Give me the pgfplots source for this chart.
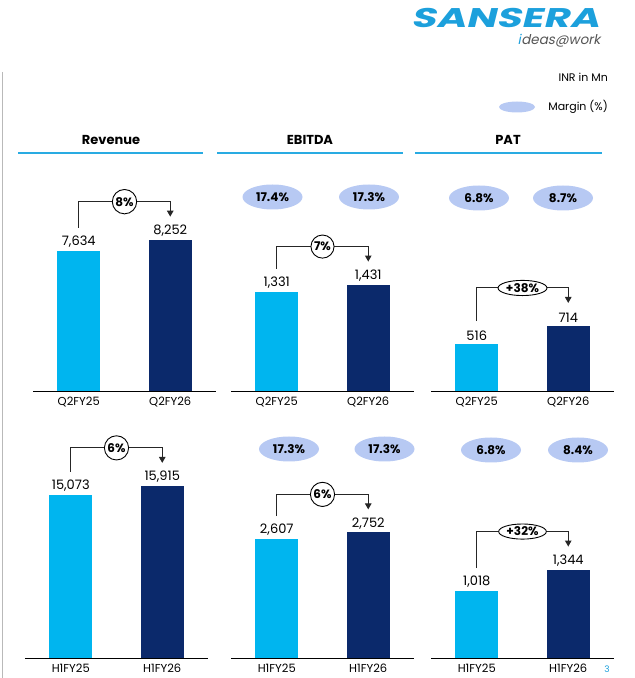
\documentclass[border=0pt]{standalone}
\usepackage{pgfplots}
\pgfplotsset{compat=1.18}
\usepackage{fontspec}
\setmainfont{Poppins}
\newfontfamily\logofont{Poppins}[FakeSlant=0.25, FakeStretch=1.5]
\newfontfamily\tagfont{Poppins}[FakeSlant=0.2]
\usetikzlibrary{arrows.meta,shapes.geometric}
\definecolor{lightbar}{RGB}{0,181,239}
\definecolor{darkbar}{RGB}{11,41,107}
\definecolor{titleline}{RGB}{41,171,226}
\definecolor{margcol}{RGB}{183,201,243}
\definecolor{logo}{RGB}{28,160,220}
\definecolor{taggray}{RGB}{85,85,85}

\pgfplotsset{
  panel/.style={
    scale only axis, width=183pt, height=200pt,
    ymin=0, xmin=-0.5, xmax=1.5, anchor=south west,
    axis y line=none, axis x line*=bottom,
    x axis line style={-, line width=0.8pt, black},
    xtick={0,1}, major tick length=0pt,
    xticklabel style={font=\fontsize{11.5}{13}\selectfont, text=black, yshift=-2.5pt},
    ybar, bar width=43pt, bar shift=0pt,
    nodes near coords,
    nodes near coords style={font=\fontsize{13}{15}\selectfont, text=black},
    /pgf/number format/fixed, /pgf/number format/precision=0,
    /pgf/number format/1000 sep={,},
    /pgf/number format/assume math mode=true,
    clip=false,
  }
}

\newcommand{\growth}[4][circle,inner sep=1.5pt]{%
  \draw[line width=1pt, draw=black!85, -{Triangle[width=6.5pt,length=6pt]}]
    ([yshift=23pt]axis cs:0,#2) |- ([yshift=38pt]axis cs:1,#3) -- ([yshift=23pt]axis cs:1,#3);
  \node[#1, draw=black, line width=0.9pt, fill=white,
        font=\bfseries\fontsize{12}{14}\selectfont]
    at ([yshift=38pt]axis cs:0.5,#3) {#4};
}
\newcommand{\marg}[3]{%
  \fill[margcol] (#1,#2) ellipse (30pt and 12.5pt);
  \node[font=\bfseries\fontsize{12}{13}\selectfont] at (#1,#2) {#3};
}

\begin{document}
\begin{tikzpicture}[x=1pt,y=1pt]
\useasboundingbox (0,0) rectangle (635,678);
\draw[gray!55, line width=1pt] (2,606) -- (2,0);
% logo
\node[text=logo, font=\logofont\bfseries\fontsize{27}{27}\selectfont, inner sep=0] at (505,660) {SANSERA};
\node[text=taggray, font=\tagfont\fontsize{13.5}{14}\selectfont, inner sep=0] at (559,637) {\textcolor{logo}{i}\kern0.4pt deas@work};
\node[anchor=east, font=\fontsize{11}{13}\selectfont, inner sep=0] at (608,601) {INR in Mn};
\fill[margcol] (517,571) ellipse (18pt and 5.5pt);
\node[anchor=east, font=\fontsize{11}{13}\selectfont, inner sep=0] at (608,571) {Margin (\%)};
% titles
\node[font=\bfseries\fontsize{13}{15}\selectfont] at (111,538) {Revenue};
\node[font=\bfseries\fontsize{13}{15}\selectfont] at (310,538) {EBITDA};
\node[font=\bfseries\fontsize{13}{15}\selectfont] at (508,538) {PAT};
\draw[titleline, line width=2pt] (18,525) -- (203,525);
\draw[titleline, line width=2pt] (217,525) -- (403,525);
\draw[titleline, line width=2pt] (415,525) -- (602,525);
% margins
\marg{272.5}{481}{17.4\%}
\marg{369}{481}{17.3\%}
\marg{479}{480}{6.8\%}
\marg{563}{480}{8.7\%}
\marg{289}{229}{17.3\%}
\marg{384.5}{229}{17.3\%}
\marg{491}{228}{6.8\%}
\marg{578}{228}{8.4\%}
% page number
\node[text=logo, font=\fontsize{9}{10}\selectfont] at (607,9) {3};

% ---- top row ----
\begin{axis}[panel, at={(33pt,287pt)}, ymax=10906, xticklabels={Q2FY25,Q2FY26}]
\addplot[fill=lightbar, draw=none] coordinates {(0,7634)};
\addplot[fill=darkbar, draw=none] coordinates {(1,8252)};
\growth{7634}{8252}{8\%}
\end{axis}
\begin{axis}[panel, at={(231pt,287pt)}, ymax=2689, xticklabels={Q2FY25,Q2FY26}]
\addplot[fill=lightbar, draw=none] coordinates {(0,1331)};
\addplot[fill=darkbar, draw=none] coordinates {(1,1431)};
\growth{1331}{1431}{7\%}
\end{axis}
\begin{axis}[panel, at={(431pt,287pt)}, ymax=2196, xticklabels={Q2FY25,Q2FY26}]
\addplot[fill=lightbar, draw=none] coordinates {(0,516)};
\addplot[fill=darkbar, draw=none] coordinates {(1,714)};
\growth[ellipse,inner sep=0.8pt]{516}{714}{+38\%}
\end{axis}
% ---- bottom row ----
\begin{axis}[panel, at={(25pt,20pt)}, ymax=18494, xticklabels={H1FY25,H1FY26}]
\addplot[fill=lightbar, draw=none] coordinates {(0,15073)};
\addplot[fill=darkbar, draw=none] coordinates {(1,15915)};
\growth{15073}{15915}{6\%}
\end{axis}
\begin{axis}[panel, at={(231pt,20pt)}, ymax=4382, xticklabels={H1FY25,H1FY26}]
\addplot[fill=lightbar, draw=none] coordinates {(0,2607)};
\addplot[fill=darkbar, draw=none] coordinates {(1,2752)};
\growth{2607}{2752}{6\%}
\end{axis}
\begin{axis}[panel, at={(431pt,20pt)}, ymax=3039, xticklabels={H1FY25,H1FY26}]
\addplot[fill=lightbar, draw=none] coordinates {(0,1018)};
\addplot[fill=darkbar, draw=none] coordinates {(1,1344)};
\growth[ellipse,inner sep=0.8pt]{1018}{1344}{+32\%}
\end{axis}
\end{tikzpicture}
\end{document}
